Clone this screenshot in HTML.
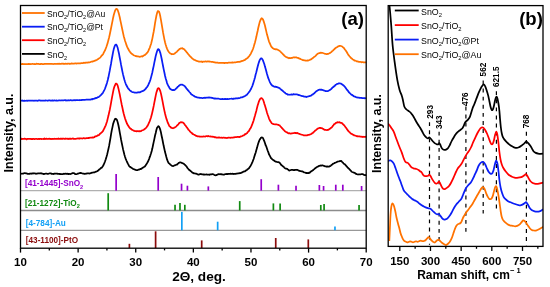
<!DOCTYPE html><html><head><meta charset="utf-8"><style>html,body{margin:0;padding:0;background:#fff;}svg{display:block}</style></head><body>
<svg width="550" height="287" viewBox="0 0 550 287" font-family="Liberation Sans, Arial, sans-serif">
<rect width="550" height="287" fill="#fff"/>
<line x1="20.5" y1="190.7" x2="366.2" y2="190.7" stroke="#b0b0b0" stroke-width="1.3"/>
<line x1="20.5" y1="210.5" x2="366.2" y2="210.5" stroke="#8c8c8c" stroke-width="1.3"/>
<line x1="20.5" y1="230.3" x2="366.2" y2="230.3" stroke="#989898" stroke-width="1.3"/>
<polyline fill="none" stroke="#000000" stroke-width="1.75" stroke-linejoin="round" points="20.50,173.39 21.17,173.65 21.83,173.75 22.50,173.61 23.16,173.64 23.83,173.30 24.50,173.23 25.16,173.24 25.83,173.29 26.49,173.42 27.16,173.64 27.83,173.93 28.49,173.98 29.16,173.73 29.83,173.83 30.49,173.50 31.16,173.60 31.82,173.78 32.49,173.31 33.16,173.51 33.82,173.25 34.49,173.36 35.15,173.48 35.82,173.80 36.49,173.63 37.15,173.58 37.82,173.47 38.48,173.37 39.15,173.33 39.82,173.28 40.48,173.45 41.15,173.12 41.81,173.59 42.48,173.67 43.15,173.80 43.81,174.17 44.48,173.88 45.15,173.74 45.81,173.56 46.48,173.53 47.14,173.81 47.81,173.83 48.48,173.77 49.14,173.54 49.81,173.33 50.47,173.41 51.14,173.48 51.81,173.92 52.47,173.93 53.14,173.93 53.80,174.02 54.47,173.57 55.14,173.60 55.80,173.64 56.47,173.69 57.13,173.64 57.80,173.91 58.47,173.86 59.13,173.77 59.80,174.09 60.47,173.99 61.13,174.20 61.80,174.21 62.46,174.08 63.13,174.03 63.80,173.72 64.46,173.88 65.13,173.77 65.79,173.53 66.46,173.99 67.13,173.79 67.79,173.72 68.46,174.19 69.12,173.83 69.79,174.01 70.46,174.06 71.12,173.74 71.79,173.54 72.45,173.09 73.12,173.06 73.79,173.08 74.45,173.45 75.12,174.09 75.79,174.08 76.45,174.23 77.12,174.01 77.78,173.61 78.45,173.53 79.12,173.14 79.78,173.10 80.45,172.93 81.11,173.13 81.78,173.23 82.45,173.51 83.11,173.68 83.78,173.68 84.44,173.92 85.11,173.77 85.78,173.70 86.44,173.62 87.11,173.38 87.77,173.40 88.44,173.46 89.11,173.45 89.77,173.51 90.44,173.17 91.11,173.03 91.77,172.65 92.44,172.60 93.10,172.54 93.77,172.33 94.44,172.44 95.10,172.02 95.77,171.72 96.43,171.59 97.10,171.20 97.77,170.70 98.43,170.39 99.10,169.48 99.76,169.16 100.43,168.65 101.10,167.87 101.76,167.63 102.43,166.75 103.09,165.70 103.76,164.53 104.43,162.92 105.09,161.21 105.76,159.30 106.43,157.11 107.09,154.75 107.76,151.87 108.42,149.07 109.09,145.94 109.76,142.16 110.42,138.40 111.09,134.20 111.75,130.42 112.42,127.31 113.09,124.13 113.75,122.07 114.42,120.29 115.08,118.89 115.75,118.74 116.42,119.14 117.08,120.29 117.75,122.43 118.42,125.22 119.08,128.54 119.75,132.31 120.41,135.89 121.08,139.66 121.75,142.97 122.41,146.15 123.08,149.40 123.74,152.08 124.41,154.70 125.08,157.02 125.74,158.86 126.41,160.50 127.07,162.00 127.74,163.41 128.41,164.60 129.07,165.95 129.74,166.83 130.40,166.94 131.07,167.47 131.74,167.92 132.40,168.29 133.07,169.00 133.74,169.19 134.40,169.34 135.07,169.63 135.73,169.89 136.40,170.13 137.07,170.15 137.73,170.09 138.40,169.72 139.06,169.66 139.73,169.31 140.40,168.96 141.06,169.01 141.73,168.60 142.39,167.79 143.06,167.62 143.73,167.18 144.39,166.60 145.06,166.33 145.72,165.37 146.39,164.14 147.06,163.19 147.72,162.03 148.39,160.59 149.06,159.08 149.72,157.15 150.39,155.33 151.05,153.30 151.72,150.98 152.39,148.30 153.05,145.03 153.72,141.82 154.38,138.82 155.05,135.49 155.72,132.94 156.38,130.05 157.05,127.85 157.71,126.96 158.38,126.19 159.05,126.73 159.71,128.07 160.38,130.13 161.04,132.82 161.71,136.22 162.38,139.29 163.04,142.72 163.71,146.06 164.38,148.99 165.04,152.08 165.71,154.48 166.37,157.07 167.04,159.41 167.71,161.16 168.37,162.57 169.04,163.34 169.70,163.88 170.37,164.56 171.04,165.13 171.70,165.67 172.37,165.98 173.03,166.09 173.70,165.81 174.37,165.45 175.03,165.31 175.70,164.98 176.36,164.68 177.03,164.58 177.70,163.87 178.36,163.30 179.03,162.76 179.70,162.43 180.36,162.36 181.03,162.51 181.69,162.96 182.36,163.05 183.03,163.40 183.69,163.86 184.36,164.28 185.02,164.87 185.69,165.56 186.36,166.25 187.02,167.19 187.69,168.28 188.35,169.02 189.02,169.83 189.69,170.29 190.35,170.74 191.02,171.35 191.68,171.95 192.35,172.60 193.02,172.85 193.68,173.26 194.35,173.35 195.02,173.46 195.68,173.68 196.35,173.62 197.01,174.12 197.68,174.29 198.35,174.57 199.01,174.60 199.68,174.08 200.34,174.08 201.01,173.95 201.68,174.27 202.34,174.30 203.01,174.42 203.67,174.68 204.34,174.44 205.01,174.73 205.67,174.51 206.34,174.34 207.00,174.54 207.67,174.66 208.34,174.71 209.00,174.68 209.67,174.79 210.34,174.35 211.00,174.45 211.67,174.30 212.33,174.03 213.00,174.31 213.67,174.42 214.33,174.93 215.00,175.24 215.66,175.33 216.33,175.20 217.00,174.76 217.66,174.57 218.33,174.03 218.99,174.30 219.66,174.24 220.33,174.05 220.99,174.32 221.66,174.19 222.32,174.47 222.99,174.56 223.66,174.68 224.32,174.53 224.99,174.18 225.66,174.24 226.32,174.17 226.99,173.92 227.65,174.22 228.32,173.93 228.99,173.94 229.65,173.99 230.32,173.67 230.98,173.77 231.65,173.80 232.32,173.73 232.98,173.78 233.65,174.07 234.31,173.80 234.98,173.93 235.65,173.99 236.31,173.59 236.98,173.68 237.64,173.49 238.31,173.39 238.98,173.37 239.64,173.02 240.31,173.18 240.98,172.89 241.64,172.65 242.31,172.44 242.97,171.91 243.64,171.63 244.31,171.38 244.97,171.32 245.64,170.79 246.30,170.28 246.97,169.91 247.64,169.16 248.30,168.73 248.97,168.24 249.63,167.22 250.30,166.26 250.97,165.05 251.63,163.80 252.30,162.47 252.96,160.70 253.63,159.03 254.30,156.68 254.96,154.63 255.63,152.66 256.30,150.29 256.96,148.11 257.63,145.42 258.29,143.29 258.96,141.36 259.63,139.74 260.29,138.87 260.96,137.85 261.62,137.47 262.29,137.61 262.96,137.99 263.62,139.57 264.29,141.13 264.95,142.94 265.62,145.23 266.29,146.42 266.95,148.48 267.62,150.49 268.28,152.04 268.95,154.25 269.62,155.42 270.28,156.70 270.95,158.05 271.62,158.54 272.28,159.34 272.95,159.88 273.61,160.19 274.28,160.77 274.95,161.33 275.61,161.64 276.28,161.67 276.94,162.00 277.61,162.04 278.28,162.01 278.94,162.23 279.61,162.83 280.27,163.49 280.94,164.64 281.61,165.35 282.27,165.74 282.94,166.42 283.61,166.70 284.27,167.57 284.94,168.18 285.60,168.53 286.27,168.62 286.94,168.76 287.60,169.28 288.27,169.70 288.93,170.40 289.60,170.53 290.27,170.27 290.93,170.01 291.60,169.81 292.26,169.84 292.93,169.87 293.60,170.20 294.26,169.97 294.93,170.05 295.59,169.79 296.26,169.75 296.93,169.91 297.59,169.93 298.26,170.35 298.93,170.65 299.59,170.95 300.26,171.15 300.92,171.23 301.59,171.30 302.26,171.44 302.92,171.69 303.59,172.09 304.25,172.35 304.92,172.52 305.59,172.81 306.25,173.14 306.92,172.82 307.58,173.09 308.25,173.21 308.92,172.69 309.58,172.79 310.25,172.10 310.91,171.49 311.58,171.15 312.25,170.67 312.91,170.27 313.58,169.61 314.25,169.08 314.91,168.41 315.58,167.95 316.24,167.56 316.91,167.01 317.58,166.70 318.24,166.52 318.91,165.93 319.57,165.92 320.24,165.69 320.91,165.38 321.57,165.52 322.24,165.40 322.90,165.48 323.57,165.80 324.24,165.92 324.90,166.31 325.57,166.38 326.23,166.48 326.90,166.84 327.57,166.44 328.23,166.61 328.90,166.66 329.57,166.19 330.23,166.16 330.90,165.62 331.56,164.90 332.23,164.50 332.90,163.87 333.56,163.52 334.23,163.17 334.89,162.74 335.56,162.62 336.23,162.30 336.89,161.96 337.56,161.61 338.22,161.50 338.89,161.45 339.56,161.04 340.22,161.09 340.89,160.94 341.55,161.19 342.22,162.10 342.89,162.72 343.55,163.40 344.22,164.00 344.89,164.32 345.55,165.20 346.22,165.89 346.88,166.59 347.55,167.56 348.22,168.06 348.88,168.69 349.55,169.37 350.21,170.04 350.88,170.77 351.55,171.62 352.21,172.04 352.88,172.25 353.54,172.60 354.21,172.73 354.88,173.02 355.54,173.60 356.21,173.90 356.87,174.23 357.54,174.46 358.21,174.36 358.87,174.51 359.54,174.37 360.21,174.35 360.87,174.26 361.54,174.14 362.20,174.15 362.87,174.18 363.54,174.61 364.20,174.96 364.87,175.17 365.53,175.11 366.20,174.83"/>
<polyline fill="none" stroke="#ff0000" stroke-width="1.75" stroke-linejoin="round" points="20.50,139.28 21.17,138.59 21.83,139.04 22.50,138.89 23.16,138.90 23.83,138.94 24.50,138.66 25.16,138.93 25.83,138.83 26.49,139.46 27.16,138.99 27.83,138.90 28.49,138.91 29.16,138.85 29.83,138.79 30.49,138.89 31.16,139.02 31.82,138.91 32.49,139.09 33.16,138.91 33.82,138.94 34.49,139.17 35.15,139.02 35.82,138.86 36.49,138.90 37.15,139.01 37.82,139.22 38.48,138.88 39.15,138.89 39.82,139.07 40.48,138.78 41.15,138.87 41.81,139.05 42.48,139.00 43.15,138.92 43.81,139.01 44.48,138.48 45.15,139.05 45.81,138.75 46.48,138.65 47.14,138.94 47.81,139.00 48.48,138.82 49.14,138.72 49.81,138.89 50.47,138.87 51.14,139.09 51.81,138.99 52.47,138.90 53.14,139.04 53.80,138.83 54.47,138.72 55.14,138.95 55.80,138.94 56.47,138.82 57.13,138.73 57.80,138.88 58.47,138.47 59.13,138.94 59.80,138.91 60.47,138.58 61.13,138.83 61.80,138.68 62.46,138.93 63.13,138.51 63.80,138.67 64.46,138.91 65.13,138.97 65.79,138.47 66.46,138.71 67.13,138.83 67.79,138.68 68.46,139.00 69.12,138.58 69.79,138.80 70.46,138.58 71.12,138.94 71.79,138.72 72.45,138.66 73.12,138.44 73.79,138.94 74.45,138.79 75.12,138.78 75.79,138.82 76.45,138.69 77.12,138.52 77.78,138.48 78.45,138.46 79.12,138.77 79.78,138.32 80.45,138.42 81.11,138.44 81.78,138.49 82.45,138.51 83.11,138.21 83.78,138.10 84.44,138.32 85.11,138.45 85.78,138.34 86.44,138.20 87.11,138.07 87.77,138.09 88.44,137.94 89.11,138.03 89.77,137.70 90.44,137.74 91.11,137.60 91.77,137.58 92.44,137.41 93.10,137.61 93.77,137.29 94.44,137.11 95.10,136.37 95.77,136.40 96.43,136.10 97.10,135.98 97.77,135.22 98.43,135.36 99.10,134.92 99.76,134.07 100.43,133.56 101.10,132.95 101.76,132.34 102.43,131.59 103.09,130.83 103.76,129.38 104.43,128.25 105.09,126.70 105.76,125.28 106.43,123.23 107.09,121.18 107.76,118.39 108.42,115.83 109.09,112.77 109.76,109.89 110.42,106.31 111.09,102.56 111.75,98.87 112.42,95.41 113.09,91.83 113.75,88.79 114.42,86.53 115.08,85.06 115.75,83.70 116.42,83.57 117.08,84.27 117.75,85.85 118.42,88.43 119.08,91.32 119.75,94.41 120.41,97.88 121.08,101.32 121.75,104.74 122.41,107.75 123.08,110.95 123.74,113.82 124.41,116.19 125.08,118.46 125.74,120.38 126.41,122.16 127.07,123.83 127.74,124.92 128.41,126.06 129.07,127.14 129.74,127.91 130.40,128.75 131.07,128.75 131.74,129.67 132.40,129.87 133.07,130.29 133.74,130.66 134.40,130.91 135.07,131.07 135.73,131.07 136.40,131.37 137.07,131.14 137.73,131.17 138.40,131.30 139.06,131.05 139.73,131.37 140.40,131.08 141.06,131.10 141.73,130.57 142.39,130.27 143.06,130.05 143.73,129.78 144.39,129.15 145.06,128.77 145.72,128.10 146.39,127.62 147.06,126.41 147.72,125.65 148.39,124.19 149.06,122.74 149.72,121.14 150.39,119.17 151.05,117.20 151.72,114.86 152.39,111.97 153.05,109.02 153.72,105.92 154.38,102.35 155.05,98.96 155.72,95.67 156.38,92.59 157.05,90.61 157.71,88.62 158.38,88.24 159.05,88.32 159.71,89.60 160.38,91.35 161.04,93.85 161.71,97.11 162.38,100.35 163.04,103.88 163.71,107.34 164.38,110.56 165.04,113.55 165.71,116.16 166.37,118.65 167.04,120.43 167.71,122.51 168.37,123.85 169.04,125.42 169.70,126.44 170.37,126.72 171.04,127.61 171.70,127.94 172.37,128.01 173.03,128.29 173.70,128.03 174.37,127.57 175.03,127.40 175.70,126.91 176.36,126.33 177.03,125.44 177.70,124.99 178.36,124.29 179.03,123.32 179.70,122.81 180.36,122.46 181.03,122.13 181.69,122.43 182.36,122.37 183.03,122.57 183.69,123.16 184.36,123.98 185.02,125.15 185.69,125.67 186.36,126.64 187.02,127.63 187.69,128.47 188.35,129.71 189.02,130.13 189.69,131.12 190.35,131.77 191.02,132.52 191.68,132.86 192.35,133.86 193.02,134.07 193.68,134.54 194.35,134.78 195.02,135.14 195.68,135.62 196.35,135.93 197.01,136.10 197.68,136.34 198.35,136.40 199.01,136.40 199.68,136.60 200.34,136.61 201.01,136.54 201.68,136.66 202.34,136.73 203.01,136.54 203.67,136.40 204.34,136.51 205.01,136.63 205.67,136.25 206.34,136.22 207.00,136.18 207.67,136.38 208.34,135.93 209.00,136.30 209.67,136.49 210.34,136.27 211.00,136.72 211.67,136.70 212.33,136.66 213.00,136.89 213.67,136.75 214.33,137.02 215.00,137.48 215.66,137.17 216.33,137.67 217.00,137.46 217.66,137.69 218.33,137.60 218.99,137.31 219.66,137.60 220.33,137.75 220.99,137.58 221.66,137.57 222.32,137.84 222.99,137.71 223.66,137.56 224.32,137.71 224.99,137.95 225.66,137.74 226.32,137.95 226.99,138.03 227.65,137.79 228.32,137.60 228.99,137.56 229.65,137.73 230.32,137.84 230.98,137.71 231.65,137.72 232.32,137.54 232.98,137.60 233.65,137.44 234.31,137.41 234.98,137.20 235.65,137.09 236.31,137.17 236.98,136.99 237.64,136.91 238.31,137.05 238.98,136.81 239.64,137.12 240.31,136.66 240.98,136.25 241.64,136.25 242.31,135.96 242.97,135.54 243.64,135.50 244.31,134.88 244.97,134.14 245.64,134.27 246.30,133.54 246.97,133.27 247.64,132.27 248.30,131.42 248.97,130.95 249.63,129.55 250.30,128.59 250.97,127.48 251.63,125.81 252.30,124.13 252.96,122.33 253.63,120.42 254.30,117.98 254.96,115.83 255.63,113.35 256.30,111.06 256.96,108.10 257.63,105.54 258.29,103.50 258.96,101.34 259.63,99.85 260.29,98.72 260.96,98.32 261.62,98.07 262.29,98.75 262.96,99.50 263.62,101.32 264.29,103.60 264.95,105.43 265.62,107.71 266.29,109.95 266.95,112.48 267.62,114.55 268.28,116.31 268.95,118.33 269.62,119.79 270.28,121.15 270.95,121.99 271.62,123.16 272.28,123.57 272.95,123.91 273.61,124.10 274.28,124.27 274.95,124.47 275.61,124.30 276.28,124.49 276.94,124.46 277.61,124.70 278.28,124.85 278.94,125.08 279.61,125.29 280.27,126.21 280.94,126.97 281.61,127.62 282.27,128.45 282.94,129.05 283.61,129.80 284.27,130.39 284.94,131.35 285.60,131.71 286.27,132.07 286.94,132.32 287.60,132.80 288.27,133.27 288.93,133.27 289.60,133.18 290.27,133.53 290.93,133.52 291.60,133.39 292.26,133.28 292.93,133.24 293.60,133.06 294.26,133.02 294.93,132.75 295.59,133.11 296.26,132.98 296.93,133.36 297.59,132.92 298.26,133.53 298.93,133.81 299.59,133.86 300.26,134.23 300.92,134.51 301.59,134.71 302.26,134.75 302.92,134.98 303.59,135.29 304.25,135.43 304.92,135.32 305.59,135.35 306.25,135.36 306.92,135.44 307.58,135.04 308.25,134.87 308.92,134.91 309.58,134.51 310.25,134.32 310.91,134.10 311.58,133.79 312.25,133.12 312.91,132.92 313.58,132.01 314.25,131.78 314.91,130.86 315.58,130.28 316.24,129.96 316.91,129.24 317.58,128.67 318.24,128.31 318.91,128.16 319.57,127.91 320.24,127.89 320.91,128.14 321.57,128.08 322.24,128.39 322.90,128.71 323.57,129.30 324.24,129.59 324.90,129.90 325.57,129.90 326.23,130.00 326.90,130.17 327.57,129.90 328.23,129.88 328.90,129.56 329.57,128.93 330.23,128.51 330.90,127.90 331.56,127.51 332.23,126.92 332.90,125.78 333.56,125.08 334.23,124.06 334.89,123.84 335.56,123.30 336.23,122.74 336.89,122.73 337.56,122.19 338.22,122.30 338.89,122.34 339.56,122.20 340.22,122.67 340.89,122.94 341.55,122.91 342.22,123.34 342.89,124.20 343.55,124.76 344.22,125.33 344.89,126.29 345.55,127.19 346.22,128.08 346.88,129.11 347.55,129.90 348.22,130.92 348.88,131.61 349.55,132.20 350.21,132.88 350.88,133.47 351.55,133.88 352.21,134.02 352.88,134.71 353.54,134.93 354.21,135.45 354.88,135.47 355.54,135.76 356.21,135.92 356.87,136.29 357.54,136.20 358.21,136.26 358.87,136.45 359.54,136.43 360.21,136.60 360.87,136.64 361.54,136.74 362.20,137.04 362.87,136.73 363.54,136.83 364.20,136.82 364.87,136.97 365.53,136.70 366.20,136.79"/>
<polyline fill="none" stroke="#0a1ef5" stroke-width="1.75" stroke-linejoin="round" points="20.50,100.79 21.17,100.69 21.83,100.70 22.50,100.45 23.16,100.96 23.83,100.87 24.50,100.69 25.16,100.82 25.83,100.75 26.49,100.65 27.16,100.83 27.83,100.67 28.49,100.66 29.16,100.60 29.83,100.74 30.49,100.67 31.16,100.74 31.82,100.60 32.49,100.68 33.16,100.55 33.82,100.76 34.49,100.67 35.15,100.69 35.82,100.69 36.49,100.51 37.15,100.72 37.82,100.87 38.48,100.42 39.15,100.41 39.82,100.43 40.48,100.70 41.15,100.61 41.81,100.72 42.48,100.67 43.15,100.61 43.81,100.61 44.48,100.55 45.15,100.67 45.81,100.42 46.48,100.50 47.14,100.58 47.81,100.76 48.48,100.44 49.14,100.40 49.81,100.46 50.47,100.63 51.14,100.48 51.81,100.66 52.47,100.27 53.14,100.63 53.80,100.61 54.47,100.31 55.14,100.49 55.80,100.61 56.47,100.47 57.13,100.58 57.80,100.73 58.47,100.48 59.13,100.40 59.80,100.34 60.47,100.50 61.13,100.39 61.80,100.39 62.46,100.39 63.13,100.47 63.80,100.26 64.46,100.19 65.13,100.08 65.79,100.51 66.46,100.36 67.13,100.53 67.79,100.33 68.46,100.24 69.12,100.37 69.79,100.30 70.46,100.15 71.12,100.18 71.79,100.49 72.45,100.31 73.12,100.30 73.79,100.21 74.45,100.14 75.12,100.32 75.79,100.19 76.45,100.09 77.12,100.15 77.78,100.04 78.45,100.16 79.12,100.25 79.78,99.99 80.45,100.24 81.11,99.97 81.78,100.04 82.45,99.89 83.11,99.94 83.78,99.94 84.44,99.84 85.11,99.77 85.78,99.73 86.44,99.67 87.11,99.53 87.77,99.63 88.44,99.65 89.11,99.64 89.77,99.53 90.44,99.67 91.11,99.32 91.77,99.12 92.44,99.28 93.10,98.80 93.77,98.89 94.44,98.49 95.10,98.46 95.77,97.97 96.43,98.07 97.10,97.66 97.77,97.24 98.43,97.20 99.10,96.67 99.76,96.10 100.43,95.46 101.10,94.90 101.76,94.16 102.43,93.42 103.09,92.45 103.76,91.14 104.43,89.85 105.09,88.36 105.76,86.54 106.43,84.66 107.09,82.48 107.76,80.05 108.42,77.30 109.09,73.92 109.76,70.69 110.42,66.94 111.09,63.46 111.75,59.38 112.42,55.72 113.09,52.10 113.75,49.11 114.42,46.88 115.08,45.25 115.75,44.68 116.42,44.74 117.08,46.22 117.75,48.07 118.42,51.09 119.08,54.05 119.75,57.73 120.41,61.08 121.08,64.92 121.75,68.25 122.41,71.57 123.08,74.64 123.74,77.31 124.41,79.79 125.08,81.96 125.74,83.79 126.41,85.29 127.07,86.49 127.74,87.71 128.41,88.76 129.07,89.35 129.74,90.37 130.40,90.82 131.07,91.28 131.74,91.79 132.40,92.06 133.07,92.24 133.74,92.26 134.40,92.54 135.07,92.63 135.73,92.52 136.40,92.75 137.07,92.66 137.73,92.30 138.40,92.46 139.06,92.18 139.73,92.31 140.40,92.09 141.06,91.64 141.73,91.40 142.39,91.22 143.06,90.82 143.73,90.61 144.39,90.03 145.06,89.33 145.72,88.77 146.39,87.67 147.06,87.03 147.72,86.02 148.39,84.64 149.06,83.12 149.72,81.58 150.39,79.80 151.05,77.36 151.72,74.69 152.39,72.21 153.05,68.77 153.72,65.82 154.38,62.36 155.05,59.24 155.72,55.92 156.38,53.47 157.05,51.21 157.71,49.58 158.38,49.04 159.05,49.65 159.71,51.16 160.38,53.13 161.04,55.86 161.71,59.02 162.38,62.57 163.04,66.03 163.71,69.45 164.38,72.54 165.04,75.79 165.71,78.50 166.37,80.56 167.04,83.05 167.71,84.63 168.37,85.97 169.04,87.02 169.70,88.31 170.37,89.05 171.04,89.47 171.70,89.69 172.37,90.24 173.03,90.06 173.70,89.95 174.37,90.09 175.03,89.63 175.70,89.00 176.36,88.26 177.03,87.77 177.70,86.77 178.36,86.42 179.03,85.72 179.70,85.15 180.36,84.73 181.03,84.75 181.69,84.62 182.36,84.73 183.03,85.09 183.69,85.32 184.36,85.84 185.02,86.45 185.69,87.38 186.36,88.32 187.02,89.06 187.69,90.00 188.35,90.62 189.02,91.52 189.69,92.26 190.35,92.94 191.02,93.99 191.68,94.49 192.35,94.87 193.02,95.38 193.68,95.92 194.35,96.15 195.02,96.72 195.68,96.82 196.35,97.18 197.01,97.31 197.68,97.55 198.35,97.58 199.01,97.65 199.68,97.80 200.34,97.88 201.01,97.94 201.68,97.98 202.34,98.14 203.01,98.02 203.67,97.84 204.34,97.90 205.01,97.68 205.67,97.88 206.34,97.73 207.00,97.47 207.67,97.71 208.34,97.73 209.00,97.33 209.67,97.61 210.34,97.71 211.00,97.62 211.67,97.82 212.33,97.93 213.00,98.21 213.67,98.29 214.33,98.67 215.00,98.41 215.66,98.68 216.33,98.64 217.00,98.73 217.66,98.62 218.33,98.59 218.99,98.77 219.66,99.00 220.33,99.13 220.99,99.04 221.66,99.05 222.32,98.90 222.99,99.20 223.66,99.18 224.32,98.96 224.99,99.02 225.66,98.90 226.32,99.18 226.99,99.05 227.65,98.97 228.32,99.02 228.99,99.00 229.65,98.88 230.32,98.75 230.98,98.72 231.65,98.63 232.32,98.85 232.98,99.02 233.65,98.51 234.31,98.67 234.98,98.65 235.65,98.41 236.31,98.48 236.98,98.24 237.64,98.43 238.31,98.11 238.98,98.07 239.64,98.01 240.31,97.73 240.98,97.40 241.64,97.36 242.31,97.29 242.97,96.94 243.64,96.70 244.31,96.22 244.97,95.99 245.64,95.64 246.30,95.07 246.97,94.73 247.64,93.83 248.30,92.99 248.97,92.08 249.63,91.43 250.30,90.17 250.97,89.03 251.63,87.52 252.30,86.02 252.96,84.15 253.63,81.91 254.30,79.75 254.96,77.43 255.63,74.57 256.30,72.22 256.96,69.48 257.63,66.81 258.29,64.21 258.96,62.10 259.63,60.18 260.29,59.10 260.96,58.40 261.62,58.49 262.29,59.07 262.96,60.39 263.62,62.21 264.29,64.00 264.95,66.61 265.62,68.72 266.29,71.18 266.95,73.82 267.62,76.09 268.28,78.20 268.95,79.77 269.62,81.55 270.28,82.90 270.95,84.14 271.62,84.85 272.28,85.59 272.95,85.90 273.61,86.34 274.28,86.54 274.95,86.83 275.61,86.73 276.28,86.84 276.94,87.14 277.61,87.45 278.28,87.53 278.94,87.85 279.61,88.18 280.27,88.85 280.94,89.34 281.61,90.08 282.27,90.54 282.94,91.02 283.61,91.67 284.27,92.20 284.94,92.69 285.60,93.46 286.27,93.81 286.94,93.90 287.60,94.52 288.27,94.53 288.93,94.52 289.60,94.75 290.27,94.72 290.93,94.61 291.60,94.42 292.26,94.58 292.93,94.53 293.60,94.12 294.26,94.44 294.93,94.42 295.59,94.31 296.26,94.44 296.93,94.49 297.59,94.57 298.26,94.80 298.93,95.22 299.59,95.11 300.26,95.54 300.92,95.76 301.59,95.87 302.26,96.11 302.92,96.17 303.59,96.38 304.25,96.59 304.92,96.71 305.59,96.60 306.25,97.07 306.92,96.60 307.58,96.60 308.25,96.43 308.92,96.24 309.58,96.22 310.25,95.74 310.91,95.63 311.58,95.24 312.25,94.56 312.91,94.34 313.58,93.63 314.25,93.50 314.91,92.57 315.58,91.95 316.24,91.29 316.91,90.87 317.58,90.51 318.24,90.10 318.91,89.80 319.57,89.69 320.24,89.69 320.91,89.92 321.57,89.65 322.24,89.97 322.90,90.14 323.57,90.30 324.24,90.56 324.90,90.80 325.57,91.14 326.23,91.10 326.90,91.06 327.57,91.11 328.23,90.88 328.90,90.54 329.57,90.25 330.23,89.65 330.90,89.29 331.56,88.68 332.23,87.94 332.90,87.19 333.56,86.86 334.23,86.05 334.89,85.82 335.56,84.84 336.23,84.56 336.89,84.02 337.56,83.80 338.22,83.66 338.89,83.34 339.56,83.39 340.22,83.49 340.89,83.65 341.55,83.99 342.22,84.44 342.89,84.93 343.55,85.48 344.22,86.12 344.89,86.83 345.55,87.73 346.22,88.64 346.88,89.69 347.55,90.45 348.22,91.19 348.88,92.22 349.55,92.80 350.21,93.49 350.88,94.18 351.55,94.82 352.21,94.96 352.88,95.55 353.54,96.08 354.21,96.35 354.88,96.57 355.54,96.86 356.21,97.30 356.87,97.26 357.54,97.55 358.21,97.69 358.87,97.66 359.54,97.86 360.21,97.83 360.87,97.88 361.54,97.87 362.20,98.16 362.87,98.04 363.54,98.05 364.20,98.00 364.87,98.36 365.53,98.24 366.20,98.14"/>
<polyline fill="none" stroke="#ff7200" stroke-width="1.75" stroke-linejoin="round" points="20.50,64.11 21.17,64.16 21.83,64.10 22.50,63.90 23.16,64.17 23.83,64.11 24.50,63.99 25.16,64.12 25.83,64.09 26.49,64.08 27.16,64.05 27.83,64.11 28.49,63.95 29.16,64.02 29.83,63.98 30.49,64.10 31.16,64.03 31.82,63.99 32.49,63.93 33.16,63.99 33.82,64.02 34.49,63.98 35.15,64.17 35.82,64.13 36.49,63.68 37.15,63.78 37.82,63.98 38.48,63.95 39.15,64.02 39.82,64.02 40.48,64.24 41.15,63.85 41.81,63.93 42.48,64.22 43.15,64.05 43.81,64.05 44.48,63.90 45.15,63.76 45.81,63.98 46.48,63.97 47.14,63.80 47.81,63.86 48.48,63.93 49.14,63.82 49.81,63.92 50.47,63.94 51.14,63.93 51.81,63.86 52.47,63.98 53.14,64.01 53.80,63.94 54.47,63.80 55.14,63.98 55.80,63.82 56.47,63.98 57.13,63.74 57.80,63.97 58.47,63.85 59.13,63.70 59.80,63.80 60.47,63.84 61.13,63.86 61.80,63.70 62.46,63.67 63.13,63.82 63.80,63.73 64.46,63.80 65.13,63.85 65.79,63.55 66.46,63.77 67.13,63.87 67.79,63.68 68.46,63.60 69.12,63.77 69.79,63.70 70.46,63.76 71.12,63.59 71.79,63.43 72.45,63.58 73.12,63.52 73.79,63.64 74.45,63.55 75.12,63.30 75.79,63.33 76.45,63.55 77.12,63.49 77.78,63.30 78.45,63.34 79.12,63.36 79.78,63.32 80.45,63.33 81.11,63.21 81.78,63.12 82.45,63.05 83.11,63.15 83.78,62.69 84.44,62.88 85.11,62.83 85.78,62.58 86.44,62.71 87.11,62.50 87.77,62.59 88.44,62.36 89.11,62.35 89.77,62.29 90.44,62.06 91.11,61.76 91.77,61.52 92.44,61.74 93.10,61.32 93.77,61.04 94.44,60.91 95.10,60.61 95.77,60.45 96.43,60.04 97.10,59.69 97.77,59.21 98.43,58.92 99.10,58.25 99.76,57.91 100.43,57.40 101.10,56.35 101.76,55.47 102.43,54.97 103.09,54.22 103.76,52.69 104.43,51.41 105.09,50.22 105.76,48.47 106.43,46.72 107.09,44.75 107.76,42.63 108.42,40.06 109.09,37.44 109.76,34.46 110.42,31.24 111.09,28.02 111.75,24.56 112.42,21.31 113.09,17.94 113.75,14.98 114.42,12.76 115.08,10.62 115.75,9.36 116.42,8.95 117.08,9.17 117.75,10.31 118.42,12.21 119.08,14.59 119.75,17.25 120.41,20.59 121.08,23.66 121.75,26.86 122.41,30.05 123.08,33.13 123.74,36.18 124.41,38.43 125.08,40.93 125.74,42.76 126.41,44.90 127.07,46.67 127.74,48.01 128.41,49.25 129.07,50.48 129.74,51.53 130.40,52.38 131.07,53.29 131.74,53.73 132.40,54.19 133.07,54.73 133.74,55.15 134.40,55.52 135.07,55.80 135.73,56.07 136.40,56.05 137.07,56.50 137.73,56.45 138.40,56.45 139.06,56.70 139.73,56.78 140.40,56.64 141.06,56.51 141.73,56.25 142.39,56.53 143.06,56.05 143.73,55.52 144.39,55.19 145.06,54.85 145.72,54.11 146.39,53.66 147.06,52.80 147.72,52.06 148.39,50.91 149.06,49.13 149.72,47.87 150.39,45.80 151.05,43.92 151.72,41.25 152.39,38.35 153.05,34.83 153.72,31.50 154.38,27.58 155.05,23.17 155.72,19.42 156.38,15.80 157.05,13.11 157.71,11.23 158.38,11.11 159.05,11.59 159.71,13.69 160.38,16.79 161.04,20.33 161.71,24.39 162.38,28.44 163.04,32.43 163.71,35.96 164.38,39.32 165.04,42.23 165.71,44.70 166.37,46.86 167.04,48.59 167.71,50.19 168.37,51.27 169.04,52.25 169.70,52.94 170.37,53.52 171.04,53.82 171.70,54.26 172.37,54.14 173.03,54.13 173.70,54.07 174.37,53.77 175.03,53.25 175.70,52.54 176.36,52.23 177.03,51.56 177.70,50.68 178.36,50.27 179.03,49.47 179.70,48.88 180.36,48.61 181.03,48.31 181.69,48.27 182.36,48.14 183.03,48.81 183.69,48.94 184.36,49.38 185.02,50.31 185.69,50.94 186.36,51.82 187.02,52.57 187.69,53.44 188.35,54.31 189.02,55.00 189.69,55.95 190.35,56.54 191.02,57.18 191.68,57.93 192.35,58.55 193.02,58.99 193.68,59.38 194.35,59.97 195.02,60.05 195.68,60.45 196.35,60.84 197.01,60.90 197.68,61.26 198.35,61.40 199.01,61.63 199.68,61.50 200.34,61.59 201.01,61.74 201.68,61.42 202.34,62.08 203.01,61.60 203.67,61.56 204.34,61.71 205.01,61.56 205.67,61.30 206.34,61.56 207.00,61.56 207.67,61.40 208.34,61.43 209.00,61.56 209.67,61.45 210.34,61.69 211.00,61.75 211.67,61.75 212.33,61.77 213.00,62.02 213.67,62.05 214.33,62.38 215.00,62.38 215.66,62.54 216.33,62.55 217.00,62.63 217.66,62.57 218.33,62.80 218.99,62.98 219.66,62.76 220.33,62.76 220.99,62.83 221.66,62.81 222.32,62.80 222.99,62.91 223.66,62.86 224.32,63.07 224.99,62.89 225.66,62.92 226.32,62.98 226.99,62.82 227.65,63.01 228.32,62.74 228.99,62.69 229.65,62.72 230.32,62.72 230.98,62.53 231.65,62.65 232.32,62.41 232.98,62.73 233.65,62.50 234.31,62.37 234.98,62.27 235.65,62.26 236.31,62.20 236.98,62.01 237.64,61.93 238.31,61.91 238.98,61.74 239.64,61.78 240.31,61.65 240.98,61.35 241.64,61.21 242.31,60.78 242.97,60.78 243.64,60.43 244.31,60.18 244.97,59.97 245.64,59.11 246.30,58.96 246.97,58.29 247.64,57.91 248.30,57.01 248.97,56.35 249.63,55.56 250.30,54.61 250.97,53.40 251.63,51.99 252.30,50.52 252.96,49.00 253.63,46.97 254.30,44.62 254.96,42.53 255.63,39.85 256.30,37.07 256.96,33.94 257.63,31.01 258.29,27.74 258.96,25.07 259.63,22.40 260.29,20.50 260.96,19.13 261.62,18.26 262.29,18.48 262.96,19.40 263.62,21.14 264.29,23.24 264.95,25.55 265.62,28.51 266.29,31.38 266.95,34.32 267.62,36.48 268.28,39.00 268.95,41.35 269.62,42.87 270.28,44.44 270.95,45.93 271.62,47.01 272.28,47.59 272.95,48.31 273.61,48.66 274.28,49.10 274.95,49.09 275.61,49.33 276.28,49.21 276.94,49.44 277.61,49.65 278.28,50.09 278.94,50.42 279.61,50.75 280.27,51.50 280.94,52.17 281.61,52.77 282.27,53.48 282.94,54.22 283.61,54.74 284.27,55.61 284.94,56.21 285.60,56.59 286.27,57.22 286.94,57.32 287.60,57.69 288.27,57.88 288.93,58.29 289.60,57.91 290.27,58.15 290.93,58.13 291.60,57.96 292.26,57.93 292.93,57.54 293.60,57.27 294.26,57.55 294.93,57.26 295.59,57.37 296.26,57.34 296.93,57.74 297.59,57.90 298.26,57.95 298.93,58.42 299.59,58.62 300.26,58.90 300.92,59.23 301.59,59.48 302.26,59.84 302.92,60.04 303.59,60.15 304.25,60.47 304.92,60.39 305.59,60.57 306.25,60.62 306.92,60.72 307.58,60.42 308.25,60.58 308.92,60.22 309.58,59.96 310.25,59.63 310.91,59.46 311.58,59.00 312.25,58.42 312.91,57.92 313.58,57.44 314.25,56.83 314.91,56.42 315.58,55.82 316.24,55.14 316.91,54.49 317.58,53.86 318.24,53.46 318.91,53.21 319.57,53.11 320.24,52.83 320.91,52.66 321.57,52.76 322.24,52.83 322.90,52.98 323.57,53.25 324.24,53.49 324.90,53.86 325.57,53.78 326.23,54.02 326.90,54.08 327.57,53.83 328.23,53.88 328.90,53.56 329.57,53.13 330.23,52.83 330.90,52.34 331.56,51.78 332.23,51.20 332.90,50.62 333.56,50.01 334.23,49.21 334.89,48.70 335.56,47.93 336.23,47.62 336.89,47.19 337.56,46.73 338.22,46.40 338.89,46.18 339.56,45.86 340.22,45.85 340.89,45.99 341.55,46.25 342.22,46.52 342.89,47.28 343.55,47.61 344.22,48.54 344.89,49.48 345.55,50.30 346.22,51.26 346.88,52.27 347.55,53.48 348.22,54.59 348.88,55.44 349.55,56.30 350.21,57.03 350.88,57.86 351.55,58.17 352.21,59.02 352.88,59.49 353.54,59.75 354.21,60.54 354.88,60.44 355.54,60.75 356.21,60.97 356.87,61.45 357.54,61.39 358.21,61.73 358.87,61.85 359.54,61.92 360.21,61.82 360.87,61.99 361.54,62.33 362.20,62.04 362.87,62.14 363.54,62.27 364.20,62.42 364.87,62.38 365.53,62.47 366.20,62.27"/>
<line x1="116.14" y1="174.0" x2="116.14" y2="190.7" stroke="#9400cc" stroke-width="1.7"/>
<line x1="158.20" y1="177.0" x2="158.20" y2="190.7" stroke="#9400cc" stroke-width="1.7"/>
<line x1="181.54" y1="183.7" x2="181.54" y2="190.7" stroke="#9400cc" stroke-width="1.7"/>
<line x1="187.42" y1="185.7" x2="187.42" y2="190.7" stroke="#9400cc" stroke-width="1.7"/>
<line x1="208.33" y1="186.4" x2="208.33" y2="190.7" stroke="#9400cc" stroke-width="1.7"/>
<line x1="261.22" y1="179.2" x2="261.22" y2="190.7" stroke="#9400cc" stroke-width="1.7"/>
<line x1="278.39" y1="184.7" x2="278.39" y2="190.7" stroke="#9400cc" stroke-width="1.7"/>
<line x1="296.02" y1="185.7" x2="296.02" y2="190.7" stroke="#9400cc" stroke-width="1.7"/>
<line x1="319.36" y1="185.0" x2="319.36" y2="190.7" stroke="#9400cc" stroke-width="1.7"/>
<line x1="323.56" y1="186.0" x2="323.56" y2="190.7" stroke="#9400cc" stroke-width="1.7"/>
<line x1="335.78" y1="184.7" x2="335.78" y2="190.7" stroke="#9400cc" stroke-width="1.7"/>
<line x1="342.81" y1="184.7" x2="342.81" y2="190.7" stroke="#9400cc" stroke-width="1.7"/>
<line x1="361.59" y1="186.0" x2="361.59" y2="190.7" stroke="#9400cc" stroke-width="1.7"/>
<line x1="108.19" y1="193.2" x2="108.19" y2="210.5" stroke="#118a11" stroke-width="1.7"/>
<line x1="175.03" y1="204.8" x2="175.03" y2="210.5" stroke="#118a11" stroke-width="1.7"/>
<line x1="179.98" y1="202.9" x2="179.98" y2="210.5" stroke="#118a11" stroke-width="1.7"/>
<line x1="184.82" y1="204.8" x2="184.82" y2="210.5" stroke="#118a11" stroke-width="1.7"/>
<line x1="239.73" y1="201.1" x2="239.73" y2="210.5" stroke="#118a11" stroke-width="1.7"/>
<line x1="273.38" y1="203.4" x2="273.38" y2="210.5" stroke="#118a11" stroke-width="1.7"/>
<line x1="280.12" y1="203.4" x2="280.12" y2="210.5" stroke="#118a11" stroke-width="1.7"/>
<line x1="320.80" y1="205.0" x2="320.80" y2="210.5" stroke="#118a11" stroke-width="1.7"/>
<line x1="324.08" y1="204.0" x2="324.08" y2="210.5" stroke="#118a11" stroke-width="1.7"/>
<line x1="359.06" y1="205.0" x2="359.06" y2="210.5" stroke="#118a11" stroke-width="1.7"/>
<line x1="181.83" y1="211.9" x2="181.83" y2="230.3" stroke="#12a0f5" stroke-width="1.7"/>
<line x1="217.66" y1="221.7" x2="217.66" y2="230.3" stroke="#12a0f5" stroke-width="1.7"/>
<line x1="334.97" y1="226.6" x2="334.97" y2="230.3" stroke="#12a0f5" stroke-width="1.7"/>
<line x1="129.40" y1="243.8" x2="129.40" y2="248.0" stroke="#8b0c0c" stroke-width="1.7"/>
<line x1="155.61" y1="231.3" x2="155.61" y2="248.0" stroke="#8b0c0c" stroke-width="1.7"/>
<line x1="201.70" y1="240.4" x2="201.70" y2="248.0" stroke="#8b0c0c" stroke-width="1.7"/>
<line x1="275.74" y1="238.0" x2="275.74" y2="248.0" stroke="#8b0c0c" stroke-width="1.7"/>
<line x1="308.30" y1="239.4" x2="308.30" y2="248.0" stroke="#8b0c0c" stroke-width="1.7"/>
<rect x="20.5" y="5.5" width="345.70" height="242.70" fill="none" stroke="#000" stroke-width="1.3"/>
<line x1="20.50" y1="248.2" x2="20.50" y2="252.6" stroke="#000" stroke-width="1.3"/>
<line x1="49.31" y1="248.2" x2="49.31" y2="250.39999999999998" stroke="#000" stroke-width="1.3"/>
<line x1="78.12" y1="248.2" x2="78.12" y2="252.6" stroke="#000" stroke-width="1.3"/>
<line x1="106.92" y1="248.2" x2="106.92" y2="250.39999999999998" stroke="#000" stroke-width="1.3"/>
<line x1="135.73" y1="248.2" x2="135.73" y2="252.6" stroke="#000" stroke-width="1.3"/>
<line x1="164.54" y1="248.2" x2="164.54" y2="250.39999999999998" stroke="#000" stroke-width="1.3"/>
<line x1="193.35" y1="248.2" x2="193.35" y2="252.6" stroke="#000" stroke-width="1.3"/>
<line x1="222.16" y1="248.2" x2="222.16" y2="250.39999999999998" stroke="#000" stroke-width="1.3"/>
<line x1="250.97" y1="248.2" x2="250.97" y2="252.6" stroke="#000" stroke-width="1.3"/>
<line x1="279.77" y1="248.2" x2="279.77" y2="250.39999999999998" stroke="#000" stroke-width="1.3"/>
<line x1="308.58" y1="248.2" x2="308.58" y2="252.6" stroke="#000" stroke-width="1.3"/>
<line x1="337.39" y1="248.2" x2="337.39" y2="250.39999999999998" stroke="#000" stroke-width="1.3"/>
<line x1="366.20" y1="248.2" x2="366.20" y2="252.6" stroke="#000" stroke-width="1.3"/>
<text x="20.50" y="265.6" font-size="11.5" font-weight="bold" text-anchor="middle">10</text>
<text x="78.12" y="265.6" font-size="11.5" font-weight="bold" text-anchor="middle">20</text>
<text x="135.73" y="265.6" font-size="11.5" font-weight="bold" text-anchor="middle">30</text>
<text x="193.35" y="265.6" font-size="11.5" font-weight="bold" text-anchor="middle">40</text>
<text x="250.97" y="265.6" font-size="11.5" font-weight="bold" text-anchor="middle">50</text>
<text x="308.58" y="265.6" font-size="11.5" font-weight="bold" text-anchor="middle">60</text>
<text x="366.20" y="265.6" font-size="11.5" font-weight="bold" text-anchor="middle">70</text>
<text x="199" y="280.8" font-size="13.6" font-weight="bold" text-anchor="middle">2&#920;, deg.</text>
<text transform="translate(13.3,133.0) rotate(-90)" font-size="12.5" font-weight="bold" text-anchor="middle">Intensity, a.u.</text>
<text transform="translate(380.9,133.5) rotate(-90)" font-size="12.5" font-weight="bold" text-anchor="middle">Intensity, a.u.</text>
<text x="364.0" y="25.0" font-size="18.6" font-weight="bold" text-anchor="end">(a)</text>
<text x="25" y="186.4" font-size="8.2" font-weight="bold" fill="#9400cc">[41-1445]-SnO<tspan font-size="5.6" dy="2.2">2</tspan></text>
<text x="25" y="206.2" font-size="8.2" font-weight="bold" fill="#118a11">[21-1272]-TiO<tspan font-size="5.6" dy="2.2">2</tspan></text>
<text x="25.8" y="225.6" font-size="8.2" font-weight="bold" fill="#12a0f5">[4-784]-Au</text>
<text x="25.8" y="243.4" font-size="8.2" font-weight="bold" fill="#8b0c0c">[43-1100]-PtO</text>
<line x1="22" y1="13.0" x2="44.7" y2="13.0" stroke="#ff7200" stroke-width="1.8"/>
<text x="47" y="16.6" font-size="8.55" fill="#000">SnO<tspan font-size="5.6" dy="2">2</tspan><tspan dy="-2">/TiO</tspan><tspan font-size="5.6" dy="2">2</tspan><tspan dy="-2">@Au</tspan></text>
<line x1="22" y1="26.7" x2="44.7" y2="26.7" stroke="#0a1ef5" stroke-width="1.8"/>
<text x="47" y="30.3" font-size="8.55" fill="#000">SnO<tspan font-size="5.6" dy="2">2</tspan><tspan dy="-2">/TiO</tspan><tspan font-size="5.6" dy="2">2</tspan><tspan dy="-2">@Pt</tspan></text>
<line x1="22" y1="40.2" x2="44.7" y2="40.2" stroke="#ff0000" stroke-width="1.8"/>
<text x="47" y="43.8" font-size="8.55" fill="#000">SnO<tspan font-size="5.6" dy="2">2</tspan><tspan dy="-2">/TiO</tspan><tspan font-size="5.6" dy="2">2</tspan></text>
<line x1="22" y1="53.9" x2="44.7" y2="53.9" stroke="#000000" stroke-width="1.8"/>
<text x="47" y="57.5" font-size="8.55" fill="#000">SnO<tspan font-size="5.6" dy="2">2</tspan></text>
<defs><clipPath id="cb"><rect x="388.2" y="5.6" width="154.80" height="240.80"/></clipPath></defs>
<line x1="429.5" y1="122.2" x2="429.5" y2="244.8" stroke="#000" stroke-width="1.2" stroke-dasharray="3.9 4.2"/>
<line x1="439.1" y1="131.7" x2="439.1" y2="241.5" stroke="#000" stroke-width="1.2" stroke-dasharray="3.9 4.2"/>
<line x1="465.9" y1="106.5" x2="465.9" y2="231.7" stroke="#000" stroke-width="1.2" stroke-dasharray="3.9 4.2"/>
<line x1="483.2" y1="80.5" x2="483.2" y2="213.5" stroke="#000" stroke-width="1.2" stroke-dasharray="3.9 4.2"/>
<line x1="496.4" y1="91.2" x2="496.4" y2="208.7" stroke="#000" stroke-width="1.2" stroke-dasharray="3.9 4.2"/>
<line x1="526.4" y1="131.8" x2="526.4" y2="245.4" stroke="#000" stroke-width="1.2" stroke-dasharray="3.9 4.2"/>
<text transform="translate(433.0,118.7) rotate(-90)" font-size="8.2" font-weight="bold">293</text>
<text transform="translate(442.4,129.0) rotate(-90)" font-size="8.2" font-weight="bold">343</text>
<text transform="translate(467.8,106.0) rotate(-90)" font-size="8.2" font-weight="bold">476</text>
<text transform="translate(486.2,76.4) rotate(-90)" font-size="8.2" font-weight="bold">562</text>
<text transform="translate(499.4,87.0) rotate(-90)" font-size="8.2" font-weight="bold">621.5</text>
<text transform="translate(528.5,128.3) rotate(-90)" font-size="8.2" font-weight="bold">768</text>
<g clip-path="url(#cb)" fill="none" stroke-width="1.75" stroke-linejoin="round">
<path d="M389.30,241.00 C389.40,238.83 389.70,232.33 389.90,228.00 C390.10,223.67 390.28,218.42 390.50,215.00 C390.72,211.58 390.90,209.40 391.20,207.50 C391.50,205.60 391.95,204.12 392.30,203.60 C392.65,203.08 392.98,203.87 393.30,204.40 C393.62,204.93 393.85,205.57 394.20,206.80 C394.55,208.03 395.02,210.02 395.40,211.80 C395.78,213.58 396.07,215.55 396.50,217.50 C396.93,219.45 397.52,221.67 398.00,223.50 C398.48,225.33 398.98,226.92 399.40,228.50 C399.82,230.08 400.15,231.78 400.50,233.00 C400.85,234.22 401.12,234.83 401.50,235.80 C401.88,236.77 402.35,237.97 402.80,238.80 C403.25,239.63 403.67,240.30 404.20,240.80 C404.73,241.30 405.50,241.53 406.00,241.80 C406.50,242.07 406.78,242.37 407.20,242.40 C407.62,242.43 408.03,242.18 408.50,242.00 C408.97,241.82 409.50,241.33 410.00,241.30 C410.50,241.27 411.00,241.62 411.50,241.80 C412.00,241.98 412.48,242.40 413.00,242.40 C413.52,242.40 414.10,241.98 414.60,241.80 C415.10,241.62 415.50,241.28 416.00,241.30 C416.50,241.32 417.10,241.92 417.60,241.90 C418.10,241.88 418.47,241.40 419.00,241.20 C419.53,241.00 420.22,240.70 420.80,240.70 C421.38,240.70 421.97,241.15 422.50,241.20 C423.03,241.25 423.50,241.17 424.00,241.00 C424.50,240.83 425.00,240.60 425.50,240.20 C426.00,239.80 426.47,239.10 427.00,238.60 C427.53,238.10 428.20,237.23 428.70,237.20 C429.20,237.17 429.53,237.87 430.00,238.40 C430.47,238.93 431.00,239.83 431.50,240.40 C432.00,240.97 432.52,241.45 433.00,241.80 C433.48,242.15 433.93,242.53 434.40,242.50 C434.87,242.47 435.33,241.98 435.80,241.60 C436.27,241.22 436.72,240.53 437.20,240.20 C437.68,239.87 438.23,239.48 438.70,239.60 C439.17,239.72 439.53,240.45 440.00,240.90 C440.47,241.35 441.00,241.87 441.50,242.30 C442.00,242.73 442.50,243.13 443.00,243.50 C443.50,243.87 444.05,244.25 444.50,244.50 C444.95,244.75 445.28,244.98 445.70,245.00 C446.12,245.02 446.52,244.90 447.00,244.60 C447.48,244.30 448.10,243.73 448.60,243.20 C449.10,242.67 449.62,241.97 450.00,241.40 C450.38,240.83 450.53,240.53 450.90,239.80 C451.27,239.07 451.77,238.13 452.20,237.00 C452.63,235.87 453.07,234.30 453.50,233.00 C453.93,231.70 454.37,230.33 454.80,229.20 C455.23,228.07 455.63,227.00 456.10,226.20 C456.57,225.40 457.12,224.80 457.60,224.40 C458.08,224.00 458.52,224.03 459.00,223.80 C459.48,223.57 460.07,223.42 460.50,223.00 C460.93,222.58 461.25,222.00 461.60,221.30 C461.95,220.60 462.25,219.60 462.60,218.80 C462.95,218.00 463.33,217.20 463.70,216.50 C464.07,215.80 464.33,215.35 464.80,214.60 C465.27,213.85 465.88,212.85 466.50,212.00 C467.12,211.15 467.88,210.33 468.50,209.50 C469.12,208.67 469.65,207.75 470.20,207.00 C470.75,206.25 471.25,205.82 471.80,205.00 C472.35,204.18 472.88,203.18 473.50,202.10 C474.12,201.02 474.82,199.73 475.50,198.50 C476.18,197.27 476.93,195.87 477.60,194.70 C478.27,193.53 478.90,192.52 479.50,191.50 C480.10,190.48 480.65,189.32 481.20,188.60 C481.75,187.88 482.30,187.27 482.80,187.20 C483.30,187.13 483.78,187.60 484.20,188.20 C484.62,188.80 484.95,189.90 485.30,190.80 C485.65,191.70 485.90,192.63 486.30,193.60 C486.70,194.57 487.25,195.77 487.70,196.60 C488.15,197.43 488.57,198.17 489.00,198.60 C489.43,199.03 489.87,199.23 490.30,199.20 C490.73,199.17 491.17,199.00 491.60,198.40 C492.03,197.80 492.50,196.80 492.90,195.60 C493.30,194.40 493.63,192.57 494.00,191.20 C494.37,189.83 494.78,188.23 495.10,187.40 C495.42,186.57 495.62,186.17 495.90,186.20 C496.18,186.23 496.47,186.55 496.80,187.60 C497.13,188.65 497.53,190.60 497.90,192.50 C498.27,194.40 498.67,196.83 499.00,199.00 C499.33,201.17 499.60,203.33 499.90,205.50 C500.20,207.67 500.50,210.12 500.80,212.00 C501.10,213.88 501.37,215.53 501.70,216.80 C502.03,218.07 502.38,218.83 502.80,219.60 C503.22,220.37 503.75,220.90 504.20,221.40 C504.65,221.90 504.95,222.13 505.50,222.60 C506.05,223.07 506.78,223.75 507.50,224.20 C508.22,224.65 508.93,225.03 509.80,225.30 C510.67,225.57 511.82,225.63 512.70,225.80 C513.58,225.97 514.35,226.28 515.10,226.30 C515.85,226.32 516.48,226.17 517.20,225.90 C517.92,225.63 518.70,225.28 519.40,224.70 C520.10,224.12 520.77,223.12 521.40,222.40 C522.03,221.68 522.67,220.63 523.20,220.40 C523.73,220.17 524.12,220.60 524.60,221.00 C525.08,221.40 525.57,222.07 526.10,222.80 C526.63,223.53 527.18,224.50 527.80,225.40 C528.42,226.30 529.13,227.43 529.80,228.20 C530.47,228.97 531.10,229.62 531.80,230.00 C532.50,230.38 533.20,230.45 534.00,230.50 C534.80,230.55 535.77,230.52 536.60,230.30 C537.43,230.08 538.18,229.62 539.00,229.20 C539.82,228.78 540.67,228.28 541.50,227.80 C542.33,227.32 543.58,226.55 544.00,226.30" stroke="#ff7200"/>
<path d="M388.00,161.60 C388.20,161.43 388.80,160.82 389.20,160.60 C389.60,160.38 389.93,160.18 390.40,160.30 C390.87,160.42 391.43,160.73 392.00,161.30 C392.57,161.87 393.22,162.58 393.80,163.70 C394.38,164.82 394.92,166.40 395.50,168.00 C396.08,169.60 396.72,171.67 397.30,173.30 C397.88,174.93 398.50,176.52 399.00,177.80 C399.50,179.08 399.85,179.80 400.30,181.00 C400.75,182.20 401.18,183.57 401.70,185.00 C402.22,186.43 402.92,188.52 403.40,189.60 C403.88,190.68 404.17,190.93 404.60,191.50 C405.03,192.07 405.43,192.42 406.00,193.00 C406.57,193.58 407.27,194.27 408.00,195.00 C408.73,195.73 409.70,196.73 410.40,197.40 C411.10,198.07 411.62,198.57 412.20,199.00 C412.78,199.43 413.33,199.70 413.90,200.00 C414.47,200.30 415.02,200.50 415.60,200.80 C416.18,201.10 416.75,201.33 417.40,201.80 C418.05,202.27 418.78,203.02 419.50,203.60 C420.22,204.18 420.90,204.78 421.70,205.30 C422.50,205.82 423.42,206.27 424.30,206.70 C425.18,207.13 426.30,207.62 427.00,207.90 C427.70,208.18 428.07,208.33 428.50,208.40 C428.93,208.47 429.18,208.17 429.60,208.30 C430.02,208.43 430.35,208.63 431.00,209.20 C431.65,209.77 432.72,210.97 433.50,211.70 C434.28,212.43 435.08,213.17 435.70,213.60 C436.32,214.03 436.70,214.22 437.20,214.30 C437.70,214.38 438.23,213.95 438.70,214.10 C439.17,214.25 439.48,214.58 440.00,215.20 C440.52,215.82 441.15,217.08 441.80,217.80 C442.45,218.52 443.28,219.23 443.90,219.50 C444.52,219.77 444.90,219.60 445.50,219.40 C446.10,219.20 446.75,218.98 447.50,218.30 C448.25,217.62 449.25,216.38 450.00,215.30 C450.75,214.22 451.33,213.02 452.00,211.80 C452.67,210.58 453.32,209.17 454.00,208.00 C454.68,206.83 455.35,205.80 456.10,204.80 C456.85,203.80 457.62,203.02 458.50,202.00 C459.38,200.98 460.62,199.95 461.40,198.70 C462.18,197.45 462.48,196.17 463.20,194.50 C463.92,192.83 464.90,190.20 465.70,188.70 C466.50,187.20 467.12,186.58 468.00,185.50 C468.88,184.42 470.13,183.42 471.00,182.20 C471.87,180.98 472.53,179.53 473.20,178.20 C473.87,176.87 474.37,175.60 475.00,174.20 C475.63,172.80 476.42,171.17 477.00,169.80 C477.58,168.43 477.92,167.13 478.50,166.00 C479.08,164.87 479.83,163.70 480.50,163.00 C481.17,162.30 481.92,161.88 482.50,161.80 C483.08,161.72 483.50,161.97 484.00,162.50 C484.50,163.03 484.97,163.92 485.50,165.00 C486.03,166.08 486.62,167.78 487.20,169.00 C487.78,170.22 488.40,171.50 489.00,172.30 C489.60,173.10 490.25,173.65 490.80,173.80 C491.35,173.95 491.83,173.83 492.30,173.20 C492.77,172.57 493.18,171.43 493.60,170.00 C494.02,168.57 494.43,166.05 494.80,164.60 C495.17,163.15 495.52,161.92 495.80,161.30 C496.08,160.68 496.23,160.53 496.50,160.90 C496.77,161.27 497.07,161.73 497.40,163.50 C497.73,165.27 498.17,168.75 498.50,171.50 C498.83,174.25 499.05,177.33 499.40,180.00 C499.75,182.67 500.17,185.37 500.60,187.50 C501.03,189.63 501.50,191.25 502.00,192.80 C502.50,194.35 503.02,195.73 503.60,196.80 C504.18,197.87 504.77,198.47 505.50,199.20 C506.23,199.93 506.98,200.62 508.00,201.20 C509.02,201.78 510.43,202.23 511.60,202.70 C512.77,203.17 513.83,203.58 515.00,204.00 C516.17,204.42 517.72,204.97 518.60,205.20 C519.48,205.43 519.67,205.50 520.30,205.40 C520.93,205.30 521.75,204.92 522.40,204.60 C523.05,204.28 523.68,203.87 524.20,203.50 C524.72,203.13 525.15,202.60 525.50,202.40 C525.85,202.20 525.97,202.03 526.30,202.30 C526.63,202.57 526.90,203.02 527.50,204.00 C528.10,204.98 529.15,207.15 529.90,208.20 C530.65,209.25 531.20,209.78 532.00,210.30 C532.80,210.82 533.87,211.10 534.70,211.30 C535.53,211.50 536.20,211.50 537.00,211.50 C537.80,211.50 538.75,211.48 539.50,211.30 C540.25,211.12 540.75,210.78 541.50,210.40 C542.25,210.02 543.58,209.23 544.00,209.00" stroke="#0a1ef5"/>
<path d="M388.00,123.40 C388.25,123.72 388.92,124.50 389.50,125.30 C390.08,126.10 390.78,127.12 391.50,128.20 C392.22,129.28 393.13,130.42 393.80,131.80 C394.47,133.18 395.00,135.13 395.50,136.50 C396.00,137.87 396.35,138.80 396.80,140.00 C397.25,141.20 397.67,142.33 398.20,143.70 C398.73,145.07 399.42,146.75 400.00,148.20 C400.58,149.65 401.13,150.85 401.70,152.40 C402.27,153.95 402.82,155.97 403.40,157.50 C403.98,159.03 404.68,160.77 405.20,161.60 C405.72,162.43 406.07,162.28 406.50,162.50 C406.93,162.72 407.30,162.52 407.80,162.90 C408.30,163.28 408.92,164.08 409.50,164.80 C410.08,165.52 410.63,166.62 411.30,167.20 C411.97,167.78 412.63,168.00 413.50,168.30 C414.37,168.60 415.67,168.72 416.50,169.00 C417.33,169.28 417.92,169.63 418.50,170.00 C419.08,170.37 419.47,170.78 420.00,171.20 C420.53,171.62 421.20,171.90 421.70,172.50 C422.20,173.10 422.53,174.22 423.00,174.80 C423.47,175.38 423.92,175.77 424.50,176.00 C425.08,176.23 425.88,176.23 426.50,176.20 C427.12,176.17 427.73,176.07 428.20,175.80 C428.67,175.53 428.92,174.57 429.30,174.60 C429.68,174.63 429.97,175.17 430.50,176.00 C431.03,176.83 431.78,178.47 432.50,179.60 C433.22,180.73 434.17,182.13 434.80,182.80 C435.43,183.47 435.80,183.58 436.30,183.60 C436.80,183.62 437.37,183.22 437.80,182.90 C438.23,182.58 438.53,181.68 438.90,181.70 C439.27,181.72 439.57,182.23 440.00,183.00 C440.43,183.77 441.00,185.37 441.50,186.30 C442.00,187.23 442.55,188.12 443.00,188.60 C443.45,189.08 443.78,189.17 444.20,189.20 C444.62,189.23 444.95,189.10 445.50,188.80 C446.05,188.50 446.88,187.92 447.50,187.40 C448.12,186.88 448.65,186.40 449.20,185.70 C449.75,185.00 450.23,184.22 450.80,183.20 C451.37,182.18 451.98,180.92 452.60,179.60 C453.22,178.28 453.90,176.65 454.50,175.30 C455.10,173.95 455.63,172.67 456.20,171.50 C456.77,170.33 457.27,169.25 457.90,168.30 C458.53,167.35 459.28,166.75 460.00,165.80 C460.72,164.85 461.40,164.00 462.20,162.60 C463.00,161.20 464.00,158.90 464.80,157.40 C465.60,155.90 466.27,154.73 467.00,153.60 C467.73,152.47 468.50,151.70 469.20,150.60 C469.90,149.50 470.60,148.27 471.20,147.00 C471.80,145.73 472.27,144.23 472.80,143.00 C473.33,141.77 473.78,140.93 474.40,139.60 C475.02,138.27 475.82,136.38 476.50,135.00 C477.18,133.62 477.83,132.42 478.50,131.30 C479.17,130.18 479.92,128.97 480.50,128.30 C481.08,127.63 481.50,127.38 482.00,127.30 C482.50,127.22 482.95,127.32 483.50,127.80 C484.05,128.28 484.68,129.17 485.30,130.20 C485.92,131.23 486.58,132.57 487.20,134.00 C487.82,135.43 488.45,137.37 489.00,138.80 C489.55,140.23 490.07,141.68 490.50,142.60 C490.93,143.52 491.22,144.13 491.60,144.30 C491.98,144.47 492.40,144.32 492.80,143.60 C493.20,142.88 493.62,141.47 494.00,140.00 C494.38,138.53 494.72,136.18 495.10,134.80 C495.48,133.42 495.93,131.75 496.30,131.70 C496.67,131.65 496.95,132.70 497.30,134.50 C497.65,136.30 498.05,139.58 498.40,142.50 C498.75,145.42 499.05,149.17 499.40,152.00 C499.75,154.83 500.10,157.42 500.50,159.50 C500.90,161.58 501.30,163.03 501.80,164.50 C502.30,165.97 502.80,167.08 503.50,168.30 C504.20,169.52 505.25,170.83 506.00,171.80 C506.75,172.77 507.37,173.47 508.00,174.10 C508.63,174.73 509.13,175.15 509.80,175.60 C510.47,176.05 511.22,176.47 512.00,176.80 C512.78,177.13 513.67,177.43 514.50,177.60 C515.33,177.77 516.12,177.83 517.00,177.80 C517.88,177.77 518.90,177.60 519.80,177.40 C520.70,177.20 521.65,176.95 522.40,176.60 C523.15,176.25 523.72,175.70 524.30,175.30 C524.88,174.90 525.40,174.12 525.90,174.20 C526.40,174.28 526.82,175.07 527.30,175.80 C527.78,176.53 528.30,177.73 528.80,178.60 C529.30,179.47 529.72,180.30 530.30,181.00 C530.88,181.70 531.58,182.35 532.30,182.80 C533.02,183.25 533.82,183.52 534.60,183.70 C535.38,183.88 536.10,183.97 537.00,183.90 C537.90,183.83 538.83,183.55 540.00,183.30 C541.17,183.05 543.33,182.55 544.00,182.40" stroke="#ff0000"/>
<path d="M388.00,-2.00 C388.25,-0.67 388.97,1.50 389.50,6.00 C390.03,10.50 390.68,18.50 391.20,25.00 C391.72,31.50 392.02,38.77 392.60,45.00 C393.18,51.23 393.92,56.60 394.70,62.40 C395.48,68.20 396.48,75.20 397.30,79.80 C398.12,84.40 398.87,87.38 399.60,90.00 C400.33,92.62 401.17,93.92 401.70,95.50 C402.23,97.08 402.37,97.67 402.80,99.50 C403.23,101.33 403.68,104.83 404.30,106.50 C404.92,108.17 405.78,108.75 406.50,109.50 C407.22,110.25 407.93,110.50 408.60,111.00 C409.27,111.50 409.92,111.90 410.50,112.50 C411.08,113.10 411.52,113.77 412.10,114.60 C412.68,115.43 413.42,116.52 414.00,117.50 C414.58,118.48 414.93,119.33 415.60,120.50 C416.27,121.67 417.27,123.33 418.00,124.50 C418.73,125.67 419.30,126.33 420.00,127.50 C420.70,128.67 421.48,130.20 422.20,131.50 C422.92,132.80 423.58,134.28 424.30,135.30 C425.02,136.32 425.88,137.08 426.50,137.60 C427.12,138.12 427.53,138.43 428.00,138.40 C428.47,138.37 428.80,137.30 429.30,137.40 C429.80,137.50 430.38,138.32 431.00,139.00 C431.62,139.68 432.33,140.77 433.00,141.50 C433.67,142.23 434.33,142.93 435.00,143.40 C435.67,143.87 436.42,144.15 437.00,144.30 C437.58,144.45 438.12,144.52 438.50,144.30 C438.88,144.08 439.02,142.97 439.30,143.00 C439.58,143.03 439.83,143.73 440.20,144.50 C440.57,145.27 441.03,146.78 441.50,147.60 C441.97,148.42 442.50,149.02 443.00,149.40 C443.50,149.78 444.00,149.87 444.50,149.90 C445.00,149.93 445.45,149.85 446.00,149.60 C446.55,149.35 447.27,148.97 447.80,148.40 C448.33,147.83 448.75,147.02 449.20,146.20 C449.65,145.38 450.03,144.47 450.50,143.50 C450.97,142.53 451.45,141.43 452.00,140.40 C452.55,139.37 453.22,138.27 453.80,137.30 C454.38,136.33 454.92,135.42 455.50,134.60 C456.08,133.78 456.68,133.03 457.30,132.40 C457.92,131.77 458.62,131.27 459.20,130.80 C459.78,130.33 460.27,130.03 460.80,129.60 C461.33,129.17 461.93,128.77 462.40,128.20 C462.87,127.63 463.17,127.12 463.60,126.20 C464.03,125.28 464.55,123.53 465.00,122.70 C465.45,121.87 465.83,121.67 466.30,121.20 C466.77,120.73 467.18,120.67 467.80,119.90 C468.42,119.13 469.22,118.50 470.00,116.60 C470.78,114.70 471.80,110.52 472.50,108.50 C473.20,106.48 473.62,105.95 474.20,104.50 C474.78,103.05 475.30,101.65 476.00,99.80 C476.70,97.95 477.65,95.23 478.40,93.40 C479.15,91.57 479.85,90.07 480.50,88.80 C481.15,87.53 481.75,86.53 482.30,85.80 C482.85,85.07 483.32,84.32 483.80,84.40 C484.28,84.48 484.72,85.27 485.20,86.30 C485.68,87.33 486.20,89.05 486.70,90.60 C487.20,92.15 487.73,93.75 488.20,95.60 C488.67,97.45 489.10,99.80 489.50,101.70 C489.90,103.60 490.23,105.62 490.60,107.00 C490.97,108.38 491.33,109.58 491.70,110.00 C492.07,110.42 492.45,110.08 492.80,109.50 C493.15,108.92 493.47,107.83 493.80,106.50 C494.13,105.17 494.47,102.95 494.80,101.50 C495.13,100.05 495.50,98.58 495.80,97.80 C496.10,97.02 496.32,96.63 496.60,96.80 C496.88,96.97 497.17,97.52 497.50,98.80 C497.83,100.08 498.28,102.47 498.60,104.50 C498.92,106.53 499.17,108.67 499.40,111.00 C499.63,113.33 499.77,115.83 500.00,118.50 C500.23,121.17 500.50,124.50 500.80,127.00 C501.10,129.50 501.45,131.80 501.80,133.50 C502.15,135.20 502.45,136.18 502.90,137.20 C503.35,138.22 503.78,138.70 504.50,139.60 C505.22,140.50 506.37,141.77 507.20,142.60 C508.03,143.43 508.77,144.02 509.50,144.60 C510.23,145.18 510.85,145.65 511.60,146.10 C512.35,146.55 513.13,147.00 514.00,147.30 C514.87,147.60 515.97,147.92 516.80,147.90 C517.63,147.88 518.27,147.55 519.00,147.20 C519.73,146.85 520.45,146.30 521.20,145.80 C521.95,145.30 522.83,144.77 523.50,144.20 C524.17,143.63 524.73,142.87 525.20,142.40 C525.67,141.93 525.92,141.38 526.30,141.40 C526.68,141.42 526.83,141.78 527.50,142.50 C528.17,143.22 529.55,144.68 530.30,145.70 C531.05,146.72 531.43,147.63 532.00,148.60 C532.57,149.57 533.07,150.78 533.70,151.50 C534.33,152.22 535.07,152.55 535.80,152.90 C536.53,153.25 537.32,153.45 538.10,153.60 C538.88,153.75 539.52,153.80 540.50,153.80 C541.48,153.80 543.42,153.63 544.00,153.60" stroke="#000000"/>
</g>
<rect x="388.2" y="5.6" width="154.80" height="240.80" fill="none" stroke="#000" stroke-width="1.3"/>
<line x1="399.80" y1="246.4" x2="399.80" y2="251.0" stroke="#000" stroke-width="1.3"/>
<line x1="415.14" y1="246.4" x2="415.14" y2="248.8" stroke="#000" stroke-width="1.3"/>
<line x1="430.48" y1="246.4" x2="430.48" y2="251.0" stroke="#000" stroke-width="1.3"/>
<line x1="445.81" y1="246.4" x2="445.81" y2="248.8" stroke="#000" stroke-width="1.3"/>
<line x1="461.15" y1="246.4" x2="461.15" y2="251.0" stroke="#000" stroke-width="1.3"/>
<line x1="476.49" y1="246.4" x2="476.49" y2="248.8" stroke="#000" stroke-width="1.3"/>
<line x1="491.82" y1="246.4" x2="491.82" y2="251.0" stroke="#000" stroke-width="1.3"/>
<line x1="507.16" y1="246.4" x2="507.16" y2="248.8" stroke="#000" stroke-width="1.3"/>
<line x1="522.50" y1="246.4" x2="522.50" y2="251.0" stroke="#000" stroke-width="1.3"/>
<line x1="537.84" y1="246.4" x2="537.84" y2="248.8" stroke="#000" stroke-width="1.3"/>
<text x="399.80" y="264.6" font-size="11.5" font-weight="bold" text-anchor="middle">150</text>
<text x="430.48" y="264.6" font-size="11.5" font-weight="bold" text-anchor="middle">300</text>
<text x="461.15" y="264.6" font-size="11.5" font-weight="bold" text-anchor="middle">450</text>
<text x="491.82" y="264.6" font-size="11.5" font-weight="bold" text-anchor="middle">600</text>
<text x="522.50" y="264.6" font-size="11.5" font-weight="bold" text-anchor="middle">750</text>
<text x="417.2" y="278.5" font-size="12" font-weight="bold">Raman shift, cm<tspan font-size="7.5" dy="-5.2">&#8722;</tspan><tspan font-size="7.5" dx="2.2">1</tspan></text>
<text x="542.9" y="25.2" font-size="18.6" font-weight="bold" text-anchor="end">(b)</text>
<line x1="394.8" y1="10.5" x2="418.7" y2="10.5" stroke="#000000" stroke-width="1.8"/>
<text x="421" y="14.7" font-size="8.85" fill="#000">SnO<tspan font-size="5.8" dy="2">2</tspan></text>
<line x1="394.8" y1="25.1" x2="418.7" y2="25.1" stroke="#ff0000" stroke-width="1.8"/>
<text x="421" y="29.3" font-size="8.85" fill="#000">SnO<tspan font-size="5.8" dy="2">2</tspan><tspan dy="-2">/TiO</tspan><tspan font-size="5.8" dy="2">2</tspan></text>
<line x1="394.8" y1="39.6" x2="418.7" y2="39.6" stroke="#0a1ef5" stroke-width="1.8"/>
<text x="421" y="43.8" font-size="8.85" fill="#000">SnO<tspan font-size="5.8" dy="2">2</tspan><tspan dy="-2">/TiO</tspan><tspan font-size="5.8" dy="2">2</tspan><tspan dy="-2">@Pt</tspan></text>
<line x1="394.8" y1="54.2" x2="418.7" y2="54.2" stroke="#ff7200" stroke-width="1.8"/>
<text x="421" y="58.4" font-size="8.85" fill="#000">SnO<tspan font-size="5.8" dy="2">2</tspan><tspan dy="-2">/TiO</tspan><tspan font-size="5.8" dy="2">2</tspan><tspan dy="-2">@Au</tspan></text>
</svg></body></html>
